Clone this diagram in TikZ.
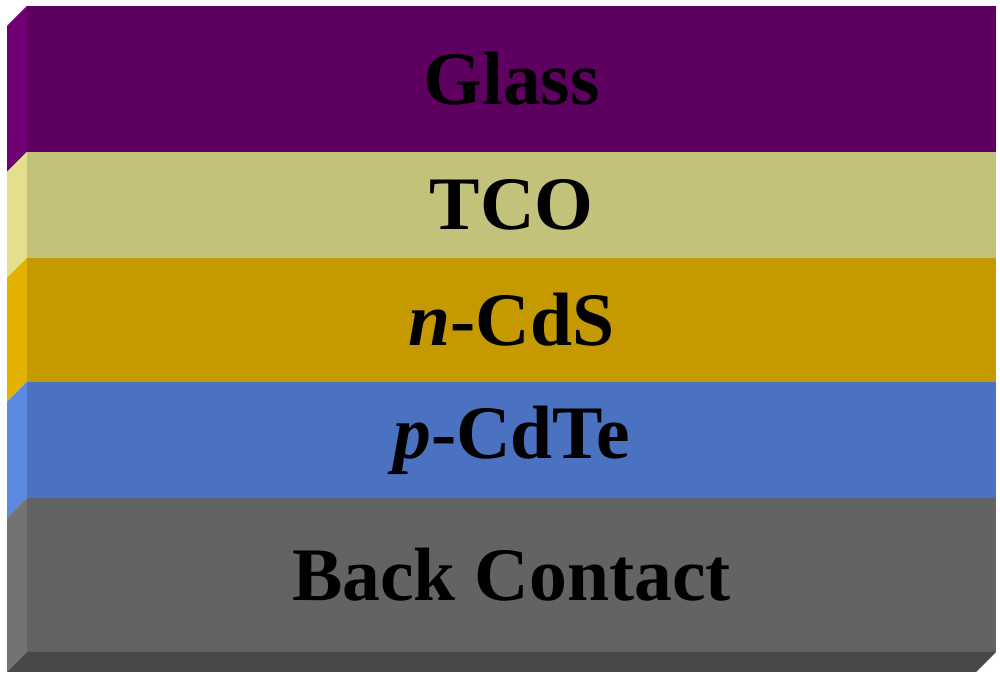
\documentclass[tikz,border=0pt]{standalone}
\usepackage{fontspec}
\setmainfont{Liberation Serif}
\usetikzlibrary{positioning,calc}
\definecolor{glassfront}{HTML}{5E0060}
\definecolor{glassside}{HTML}{700073}
\definecolor{tcofront}{HTML}{C3C27A}
\definecolor{tcoside}{HTML}{E2E08F}
\definecolor{cdsfront}{HTML}{C49A00}
\definecolor{cdsside}{HTML}{E3B100}
\definecolor{cdtefront}{HTML}{4A72C1}
\definecolor{cdteside}{HTML}{5A89E0}
\definecolor{backfront}{HTML}{636363}
\definecolor{backside}{HTML}{737373}
\definecolor{backbottom}{HTML}{484848}
\begin{document}
\begin{tikzpicture}
	\tikzstyle{layer} = [rectangle, minimum width=19.38cm, inner sep=0pt, outer sep=0pt, font=\fontsize{43}{50}\selectfont\bfseries]
	\useasboundingbox (0,0) rectangle (20,-13.58);
	\node[layer,fill=glassfront,minimum height=2.92cm,anchor=north west](glass)at (0.54,-0.12){Glass};
	\node[layer,fill=tcofront,minimum height=2.12cm,below=0pt of glass](tco){TCO};
	\node[layer,fill=cdsfront,minimum height=2.48cm,below=0pt of tco](ncds){\textit{n}-CdS};
	\node[layer,fill=cdtefront,minimum height=2.32cm,below=0pt of ncds](pcdte){\textit{p}-CdTe};
	\node[layer,fill=backfront,minimum height=3.08cm,below=0pt of pcdte](back){Back Contact};
	% side faces
	\fill[glassside] (glass.north west) -- ++(-0.4,-0.4) -- ($(glass.south west)+(-0.4,-0.4)$) -- (glass.south west) -- cycle;
	\fill[tcoside] (tco.north west) -- ++(-0.4,-0.4) -- ($(tco.south west)+(-0.4,-0.4)$) -- (tco.south west) -- cycle;
	\fill[cdsside] (ncds.north west) -- ++(-0.4,-0.4) -- ($(ncds.south west)+(-0.4,-0.4)$) -- (ncds.south west) -- cycle;
	\fill[cdteside] (pcdte.north west) -- ++(-0.4,-0.4) -- ($(pcdte.south west)+(-0.4,-0.4)$) -- (pcdte.south west) -- cycle;
	\fill[backside] (back.north west) -- ++(-0.4,-0.4) -- ($(back.south west)+(-0.4,-0.4)$) -- (back.south west) -- cycle;
	\fill[backbottom] (back.south west) -- (back.south east) -- ++(-0.4,-0.4) -- ($(back.south west)+(-0.4,-0.4)$) -- cycle;
\end{tikzpicture}
\end{document}
